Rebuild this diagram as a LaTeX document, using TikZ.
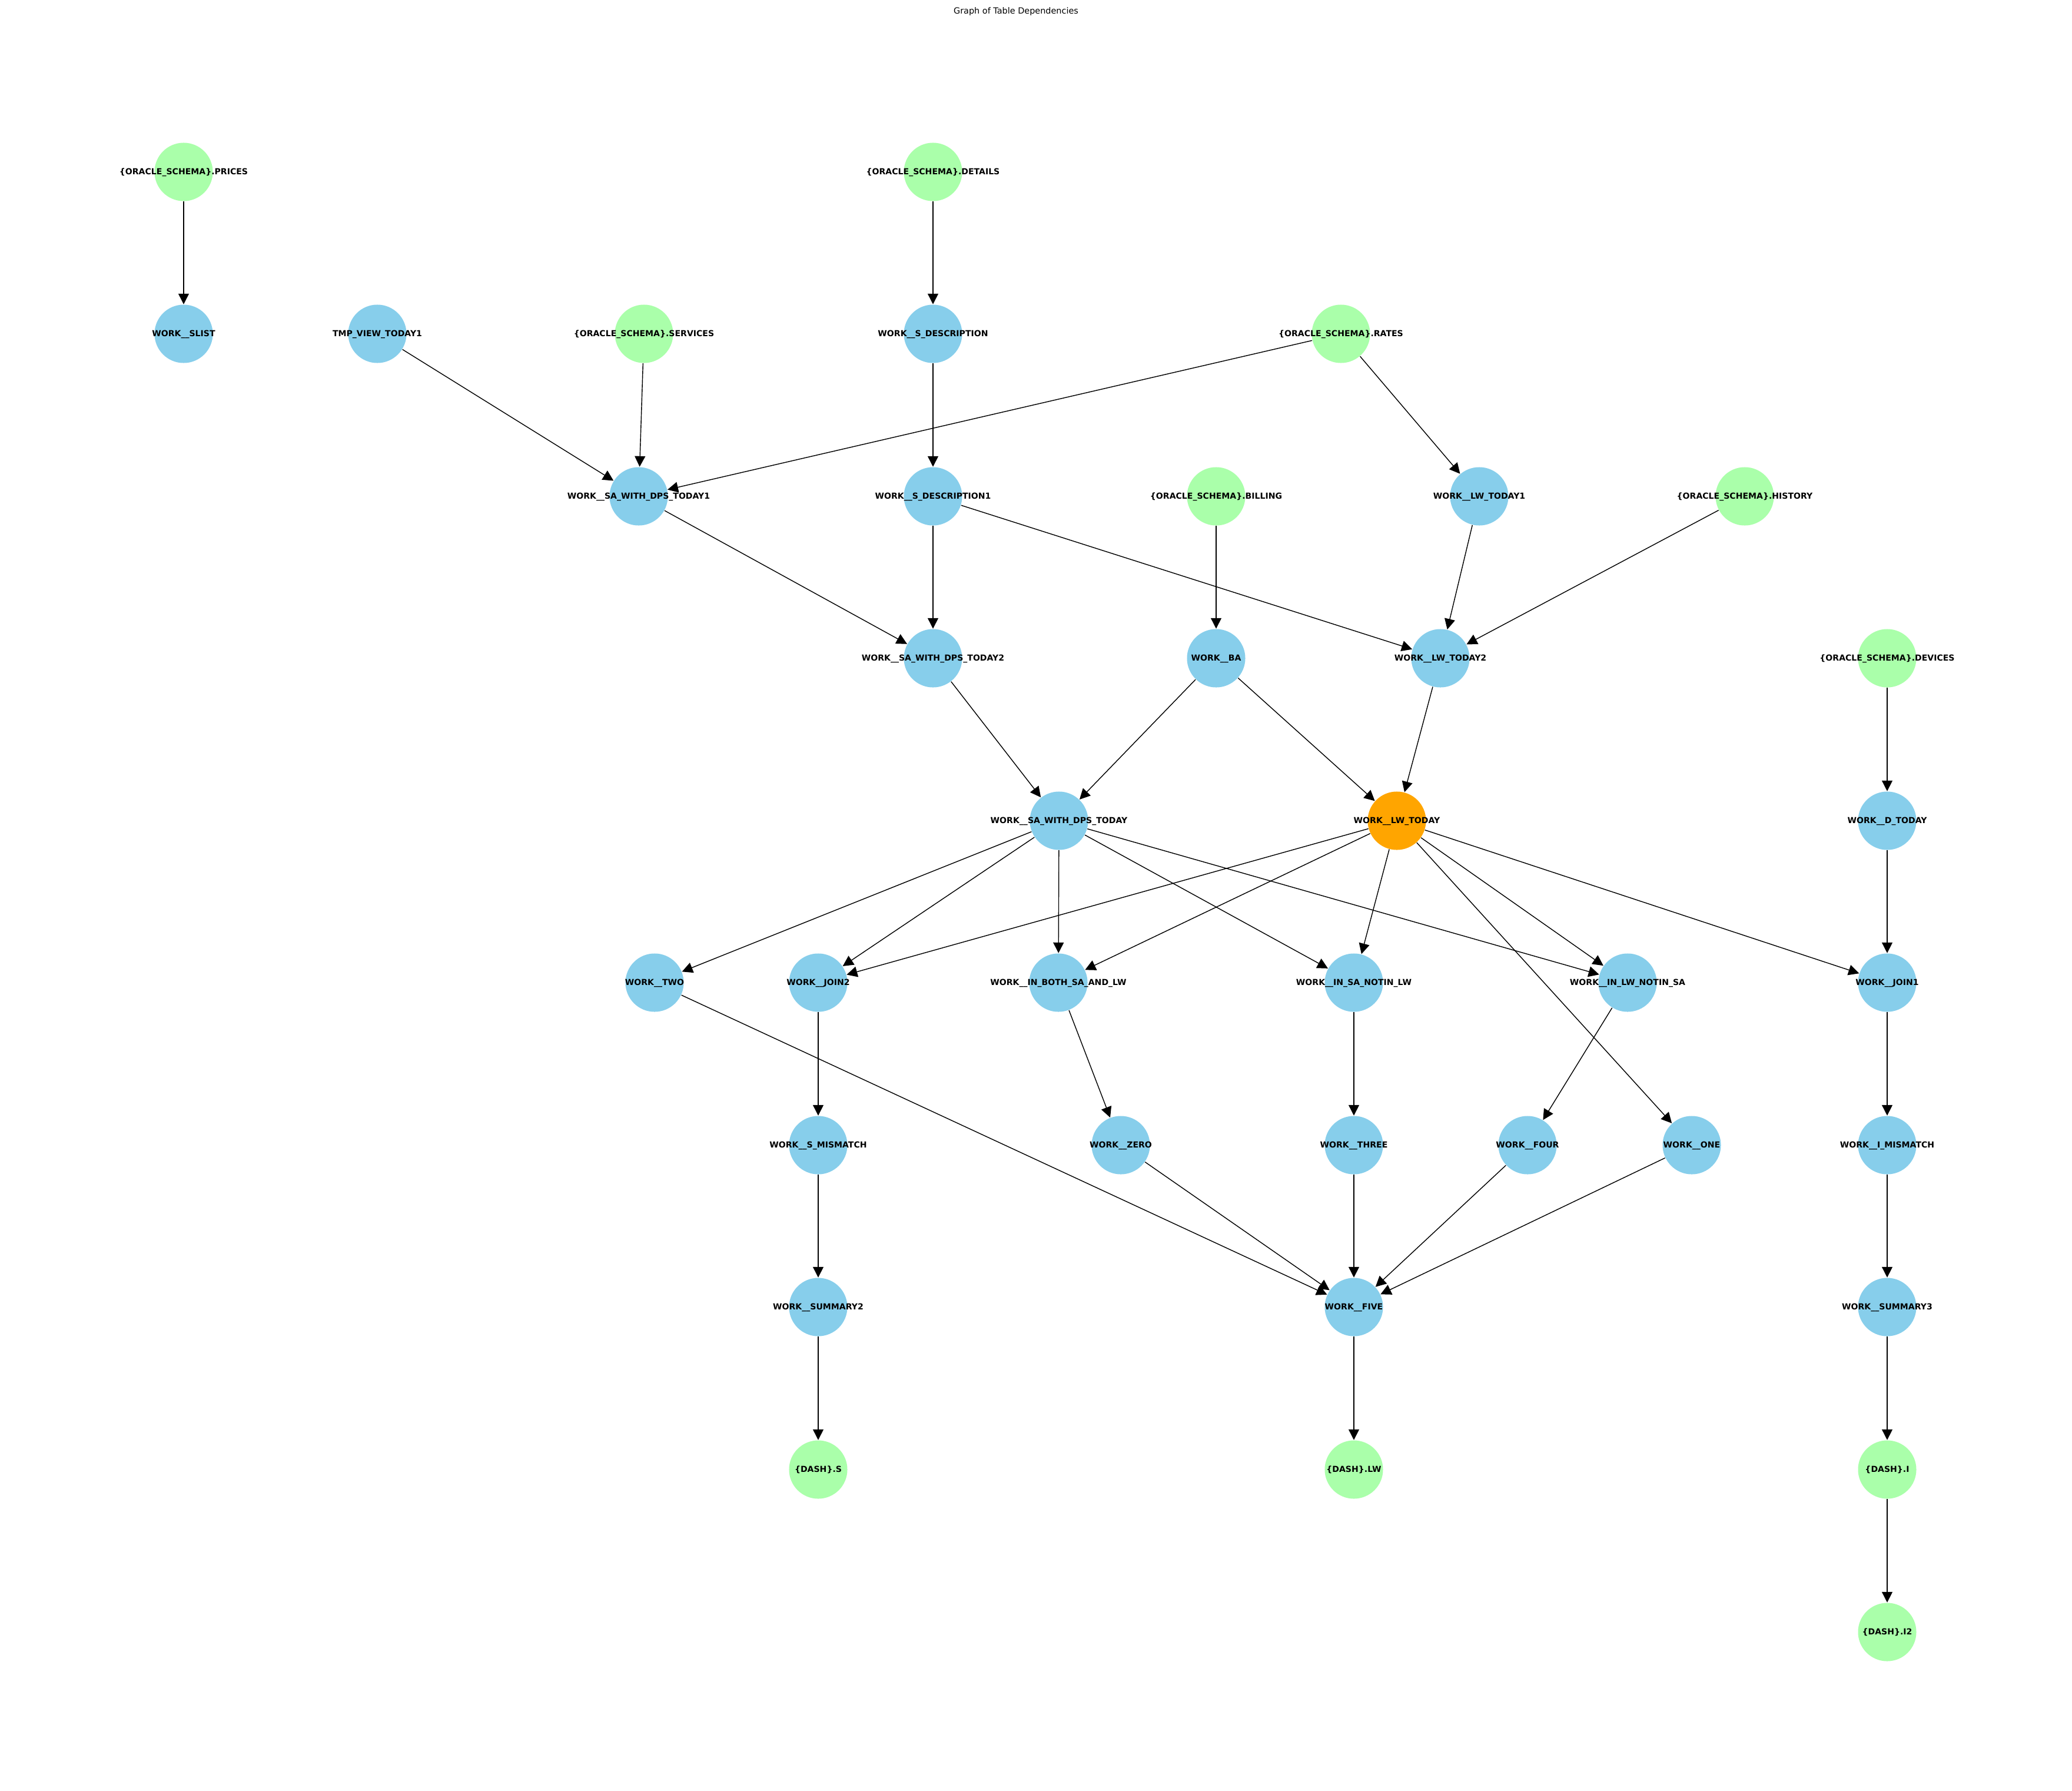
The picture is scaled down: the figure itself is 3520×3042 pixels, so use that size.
\documentclass[tikz,border=0pt]{standalone}
\usepackage{fontspec}
\setmainfont{DejaVu Sans}
\usetikzlibrary{arrows.meta,backgrounds}
\definecolor{WorkBlue}{RGB}{135,206,235}
\definecolor{SourceGreen}{RGB}{170,255,170}
\definecolor{FocusOrange}{RGB}{255,165,0}
\tikzset{
  tbl/.style={circle,minimum size=0.99cm,inner sep=0pt,fill=WorkBlue},
  src/.style={tbl,fill=SourceGreen},
  focus/.style={tbl,fill=FocusOrange},
  lbl/.style={font=\bfseries\fontsize{4}{5}\selectfont,inner sep=0pt,text height=2.9pt,text depth=0.3pt},
  dep/.style={-{Triangle[length=0.18cm,width=0.18cm]},line width=0.4pt}
}
\newcommand{\tablenode}[4]{\node[#1,label={[lbl]center:{#4}}] (#2) at (#3) {};}
\newcommand{\depedge}[2]{\draw[dep] (#1)--(#2);}

\begin{document}
\begin{tikzpicture}[x=0.01cm,y=-0.01cm]
  \useasboundingbox (0,0) rectangle (3520,3042);
  \node[font=\fontsize{4.1}{5}\selectfont,anchor=base] (title) at (1726,24) {Graph of Table Dependencies};

  \tablenode{src}{prices}{312,292}{\{ORACLE\_SCHEMA\}.PRICES}
  \tablenode{src}{details}{1585,292}{\{ORACLE\_SCHEMA\}.DETAILS}

  \tablenode{tbl}{slist}{312,567}{WORK\_\_SLIST}
  \tablenode{tbl}{tmpview}{641,567}{TMP\_VIEW\_TODAY1}
  \tablenode{src}{services}{1094,567}{\{ORACLE\_SCHEMA\}.SERVICES}
  \tablenode{tbl}{sdesc}{1585,567}{WORK\_\_S\_DESCRIPTION}
  \tablenode{src}{rates}{2278,567}{\{ORACLE\_SCHEMA\}.RATES}

  \tablenode{tbl}{sadps1}{1085,843}{WORK\_\_SA\_WITH\_DPS\_TODAY1}
  \tablenode{tbl}{sdesc1}{1585,843}{WORK\_\_S\_DESCRIPTION1}
  \tablenode{src}{billing}{2066,843}{\{ORACLE\_SCHEMA\}.BILLING}
  \tablenode{tbl}{lwtoday1}{2513,843}{WORK\_\_LW\_TODAY1}
  \tablenode{src}{history}{2964,843}{\{ORACLE\_SCHEMA\}.HISTORY}

  \tablenode{tbl}{sadps2}{1585,1118}{WORK\_\_SA\_WITH\_DPS\_TODAY2}
  \tablenode{tbl}{ba}{2066,1118}{WORK\_\_BA}
  \tablenode{tbl}{lwtoday2}{2447,1118}{WORK\_\_LW\_TODAY2}
  \tablenode{src}{devices}{3206,1118}{\{ORACLE\_SCHEMA\}.DEVICES}

  \tablenode{tbl}{sadps}{1799,1394}{WORK\_\_SA\_WITH\_DPS\_TODAY}
  \tablenode{focus}{lwtoday}{2373,1394}{WORK\_\_LW\_TODAY}
  \tablenode{tbl}{dtoday}{3206,1394}{WORK\_\_D\_TODAY}

  \tablenode{tbl}{two}{1112,1669}{WORK\_\_TWO}
  \tablenode{tbl}{join2}{1390,1669}{WORK\_\_JOIN2}
  \tablenode{tbl}{inboth}{1798,1669}{WORK\_\_IN\_BOTH\_SA\_AND\_LW}
  \tablenode{tbl}{insa}{2300,1669}{WORK\_\_IN\_SA\_NOTIN\_LW}
  \tablenode{tbl}{inlw}{2765,1669}{WORK\_\_IN\_LW\_NOTIN\_SA}
  \tablenode{tbl}{join1}{3206,1669}{WORK\_\_JOIN1}

  \tablenode{tbl}{smis}{1390,1945}{WORK\_\_S\_MISMATCH}
  \tablenode{tbl}{zero}{1904,1945}{WORK\_\_ZERO}
  \tablenode{tbl}{three}{2300,1945}{WORK\_\_THREE}
  \tablenode{tbl}{four}{2595,1945}{WORK\_\_FOUR}
  \tablenode{tbl}{one}{2874,1945}{WORK\_\_ONE}
  \tablenode{tbl}{imis}{3206,1945}{WORK\_\_I\_MISMATCH}

  \tablenode{tbl}{summ2}{1390,2220}{WORK\_\_SUMMARY2}
  \tablenode{tbl}{five}{2300,2220}{WORK\_\_FIVE}
  \tablenode{tbl}{summ3}{3206,2220}{WORK\_\_SUMMARY3}

  \tablenode{src}{dashs}{1390,2496}{\{DASH\}.S}
  \tablenode{src}{dashlw}{2300,2496}{\{DASH\}.LW}
  \tablenode{src}{dashi}{3206,2496}{\{DASH\}.I}
  \tablenode{src}{dashii}{3206,2772}{\{DASH\}.I2}

  \begin{scope}[on background layer]
    \depedge{prices}{slist}
    \depedge{details}{sdesc}
    \depedge{tmpview}{sadps1}
    \depedge{services}{sadps1}
    \depedge{rates}{sadps1}
    \depedge{rates}{lwtoday1}
    \depedge{sdesc}{sdesc1}
    \depedge{sadps1}{sadps2}
    \depedge{sdesc1}{sadps2}
    \depedge{sdesc1}{lwtoday2}
    \depedge{billing}{ba}
    \depedge{lwtoday1}{lwtoday2}
    \depedge{history}{lwtoday2}
    \depedge{devices}{dtoday}
    \depedge{sadps2}{sadps}
    \depedge{ba}{sadps}
    \depedge{ba}{lwtoday}
    \depedge{lwtoday2}{lwtoday}
    \depedge{dtoday}{join1}
    \depedge{sadps}{two}
    \depedge{sadps}{join2}
    \depedge{sadps}{inboth}
    \depedge{sadps}{insa}
    \depedge{sadps}{inlw}
    \depedge{lwtoday}{join2}
    \depedge{lwtoday}{inboth}
    \depedge{lwtoday}{insa}
    \depedge{lwtoday}{inlw}
    \depedge{lwtoday}{one}
    \depedge{lwtoday}{join1}
    \depedge{join2}{smis}
    \depedge{inboth}{zero}
    \depedge{insa}{three}
    \depedge{inlw}{four}
    \depedge{join1}{imis}
    \depedge{two}{five}
    \depedge{zero}{five}
    \depedge{three}{five}
    \depedge{four}{five}
    \depedge{one}{five}
    \depedge{smis}{summ2}
    \depedge{imis}{summ3}
    \depedge{summ2}{dashs}
    \depedge{five}{dashlw}
    \depedge{summ3}{dashi}
    \depedge{dashi}{dashii}
  \end{scope}
\end{tikzpicture}
\end{document}
